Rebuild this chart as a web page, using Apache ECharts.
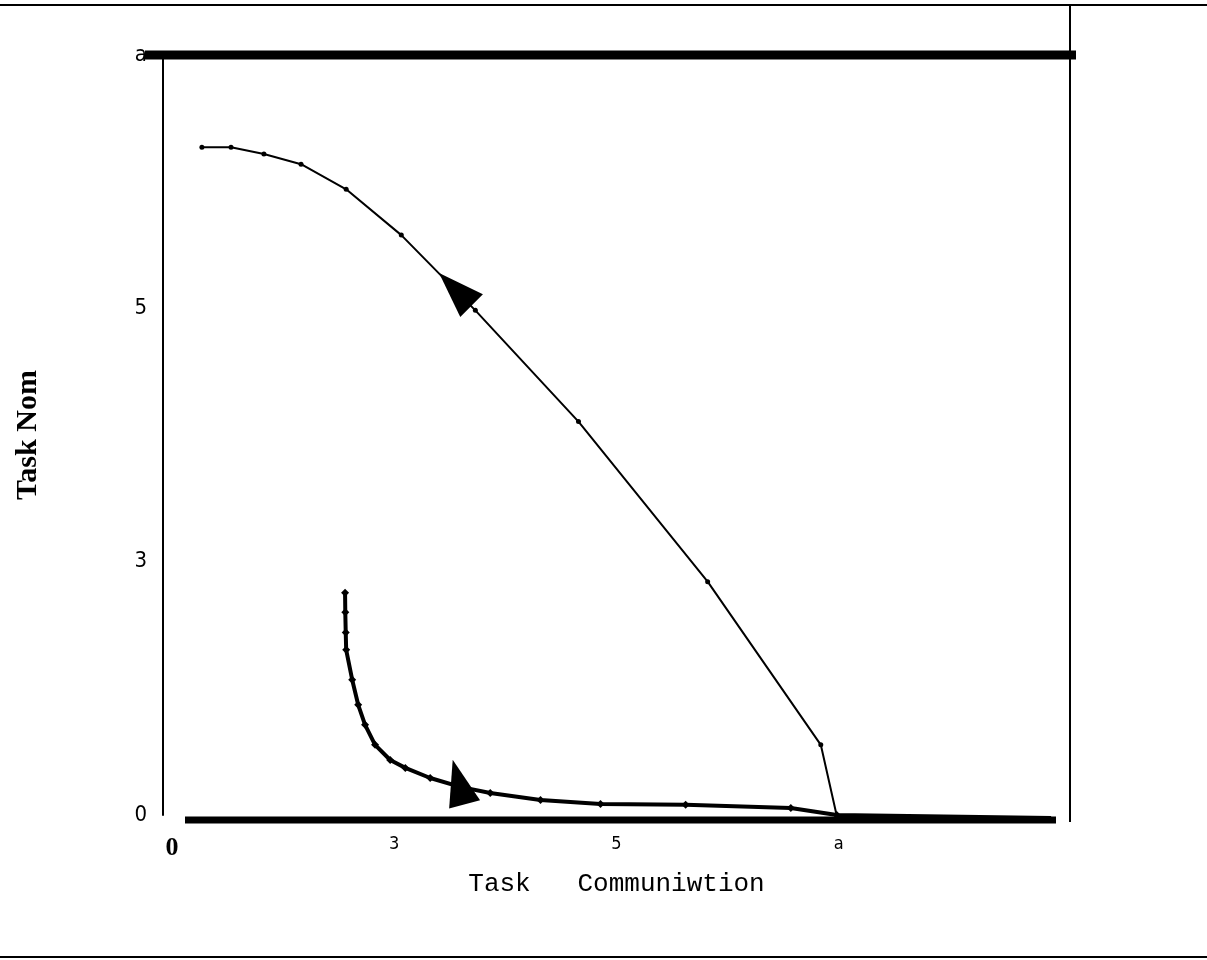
<!DOCTYPE html>
<html>
<head>
<meta charset="UTF-8">
<title></title>
<style>
	*{margin:0;padding:0;}
	html,body{height:100%;background:#fff;}
	#main{width:1207px;height:960px;}
</style>
</head>
<body>
<div id="main"></div>
<script src="https://cdn.jsdelivr.net/npm/echarts@6/dist/echarts.min.js"></script>
<script>
var xTicks=[0,1,2,3], xTickLabels=['0','3','5','a'];
var yTicks=[0,1,2,3], yTickLabels=['0','3','5','a'];
// descending curve (thin)
var upperCurve=[[0.135,2.636],[0.266,2.636],[0.414,2.609],[0.581,2.569],[0.784,2.470],[1.032,2.289],
	[1.365,1.992],[1.829,1.553],[2.41,0.921],[2.919,0.277],[2.99,0.0]];
// lower curve (thick)
var lowerCurve=[[0.779,0.877],[0.780,0.80],[0.782,0.72],[0.784,0.652],[0.811,0.534],[0.838,0.435],[0.869,0.356],
	[0.914,0.277],[0.982,0.217],[1.050,0.186],[1.162,0.146],[1.297,0.111],[1.432,0.087],[1.658,0.059],
	[1.928,0.043],[2.311,0.040],[2.784,0.028],[2.991,0.0],[3.955,-0.012]];
var arrows=[{coord:[1.275,2.075],rot:45},{coord:[1.29,0.13],rot:15}];

var chart=echarts.init(document.getElementById('main'));
chart.setOption({
	animation:false,
	grid:{left:163,right:137,top:55,bottom:145},
	xAxis:{type:'value',min:-0.04,max:4.04,
		axisLine:{show:false},axisTick:{show:false},splitLine:{show:false},
		axisLabel:{customValues:xTicks,margin:20,
			formatter:function(v){var i=xTicks.indexOf(v);return i===0?'{b|'+xTickLabels[i]+'}':'{s|'+xTickLabels[i]+'}';},
			rich:{b:{fontFamily:'Liberation Serif',fontWeight:'bold',fontSize:26,color:'#000'},
				s:{fontFamily:'DejaVu Sans Condensed',fontSize:18,color:'#000',padding:[0,0,10,0]}}},
		name:'Task   Communiwtion',nameLocation:'middle',nameGap:56,
		nameTextStyle:{fontFamily:'Liberation Mono',fontSize:26,color:'#000'}},
	yAxis:{type:'value',min:0,max:3,
		axisLine:{show:true,onZero:false,lineStyle:{color:'#000',width:2}},axisTick:{show:false},splitLine:{show:false},
		axisLabel:{customValues:yTicks,margin:16,color:'#000',fontFamily:'DejaVu Sans Condensed',fontSize:22,
			formatter:function(v){return yTickLabels[yTicks.indexOf(v)];}},
		name:'Task Nom',nameLocation:'middle',nameGap:120,
		nameTextStyle:{fontFamily:'Liberation Serif',fontWeight:'bold',fontSize:30,color:'#000'}},
	graphic:[
		{type:'line',shape:{x1:0,y1:5,x2:1207,y2:5},style:{stroke:'#000',lineWidth:2}},
		{type:'line',shape:{x1:0,y1:957,x2:1207,y2:957},style:{stroke:'#000',lineWidth:2}},
		{type:'line',shape:{x1:1070,y1:5,x2:1070,y2:822},style:{stroke:'#000',lineWidth:2}},
		{type:'line',shape:{x1:145,y1:55,x2:1076,y2:55},style:{stroke:'#000',lineWidth:9}},
		{type:'line',shape:{x1:185,y1:820,x2:1056,y2:820},style:{stroke:'#000',lineWidth:7}}
	],
	series:[
		{type:'line',data:upperCurve,symbol:'circle',symbolSize:5,
			itemStyle:{color:'#000'},lineStyle:{color:'#000',width:2}},
		{type:'line',data:lowerCurve,symbol:'diamond',symbolSize:8,
			itemStyle:{color:'#000'},lineStyle:{color:'#000',width:4}},
		{type:'scatter',symbol:'triangle',symbolSize:[32,46],itemStyle:{color:'#000',opacity:1},
			data:arrows.map(function(a){return {value:a.coord,symbolRotate:a.rot};})}
	]
});
</script>
</body>
</html>
